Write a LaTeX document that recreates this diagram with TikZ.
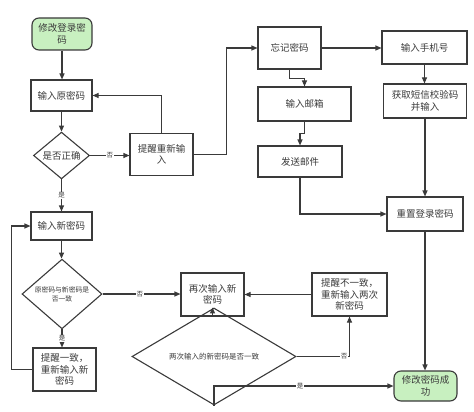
\documentclass[tikz,border=0pt]{standalone}
\usepackage{fontspec}
\setmainfont{Noto Sans CJK SC}
\usetikzlibrary{arrows.meta,shapes.geometric}
\definecolor{ln}{HTML}{3A3A3A}
\definecolor{gr}{HTML}{C8F0C0}
\tikzset{
  box/.style={draw=ln, line width=1.1pt, rectangle, align=center, inner sep=1pt, font=\fontsize{9.5}{11.5}\selectfont, text=ln},
  term/.style={box, rounded corners=7pt, fill=gr},
  dia/.style={draw=ln, line width=1.1pt, diamond, inner sep=0pt, align=center, text=ln},
  arr/.style={draw=ln, line width=1.1pt, -{Triangle[length=6pt,width=5pt]}},
  lab/.style={fill=white, inner sep=0.5pt, font=\fontsize{6.5}{7}\selectfont, text=ln}
}
\begin{document}
\begin{tikzpicture}[x=1pt,y=-1pt]
\useasboundingbox (0,0) rectangle (474,412);
\node[term, minimum width=60pt, minimum height=32pt] (start) at (62,34) {修改登录密\\码};
\node[box, minimum width=61pt, minimum height=31pt] (orig) at (61.5,95.5) {输入原密码};
\node[dia, minimum width=56pt, minimum height=41pt, font=\fontsize{9.5}{11}\selectfont] (q1) at (61.5,155.5) {是否正确};
\node[box, minimum width=63pt, minimum height=42pt] (remind1) at (161.5,154.5) {提醒重新输\\入};
\node[box, minimum width=63pt, minimum height=42pt] (forgot) at (289.5,48) {忘记密码};
\node[box, minimum width=85pt, minimum height=33pt] (phone) at (424.5,47.5) {输入手机号};
\node[box, minimum width=83pt, minimum height=34pt] (sms) at (425,101) {获取短信校验码\\并输入};
\node[box, minimum width=93pt, minimum height=34pt] (email) at (304.5,104) {输入邮箱};
\node[box, minimum width=84pt, minimum height=31pt] (send) at (300,161.5) {发送邮件};
\node[box, minimum width=76pt, minimum height=34pt] (reset) at (425,214) {重置登录密码};
\node[box, minimum width=61pt, minimum height=28pt] (newpw) at (61.5,226) {输入新密码};
\node[dia, minimum width=80pt, minimum height=62pt, font=\fontsize{6.8}{9}\selectfont] (q2) at (62,294) {原密码与新密码是\\否一致};
\node[box, minimum width=63pt, minimum height=43pt] (again) at (212.5,294.5) {再次输入新\\密码};
\node[box, minimum width=63pt, minimum height=43pt] (remind2) at (64.5,369.5) {提醒一致，\\重新输入新\\密码};
\node[box, minimum width=75pt, minimum height=43pt] (remind3) at (349.5,294.5) {提醒不一致，\\重新输入两次\\新密码};
\node[dia, minimum width=164pt, minimum height=49pt, font=\fontsize{7.5}{9}\selectfont] (q3) at (214,356.5) {两次输入的新密码是否一致};
\node[term, minimum width=63pt, minimum height=30pt] (done) at (425.5,386) {修改密码成\\功};

\draw[arr] (start.south) -- (start.south |- orig.north);
\draw[arr] (orig.south) -- (orig.south |- q1.north);
\draw[arr] (q1.east) -- node[lab] {否} (q1.east -| remind1.west);
\draw[arr] (remind1.north) |- (orig.east);
\draw[arr] (remind1.east) -- ++(33,0) |- (forgot.west);
\draw[arr] (forgot.east) -- (forgot.east -| phone.west);
\draw[arr] (forgot.south) -- ++(0,9) -| (email.north);
\draw[arr] (email.south) -- ++(0,12) -| (send.north);
\draw[arr] (phone.south) -- (phone.south |- sms.north);
\draw[arr] (sms.south) -- (sms.south |- reset.north);
\draw[arr] (send.south) |- (reset.west);
\draw[arr] (reset.south) -- (reset.south |- done.north);
\draw[arr] (q1.south) -- node[lab] {是} (q1.south |- newpw.north);
\draw[arr] (newpw.south) -- (newpw.south |- q2.north);
\draw[arr] (q2.east) -- node[lab, pos=0.48] {否} (q2.east -| again.west);
\draw[arr] (q2.south) -- node[lab] {是} (q2.south |- remind2.north);
\draw[arr] (remind2.west) -- ++(-21,0) |- (newpw.west);
\draw[arr] (remind3.west) -- (remind3.west -| again.east);
\draw[arr] (again.south) -- (again.south |- q3.north);
\draw[arr] (q3.east) -| node[lab, pos=0.45] {否} (remind3.south);
\draw[arr] (q3.south) |- node[lab, pos=0.74] {是} (done.west);
\end{tikzpicture}
\end{document}
